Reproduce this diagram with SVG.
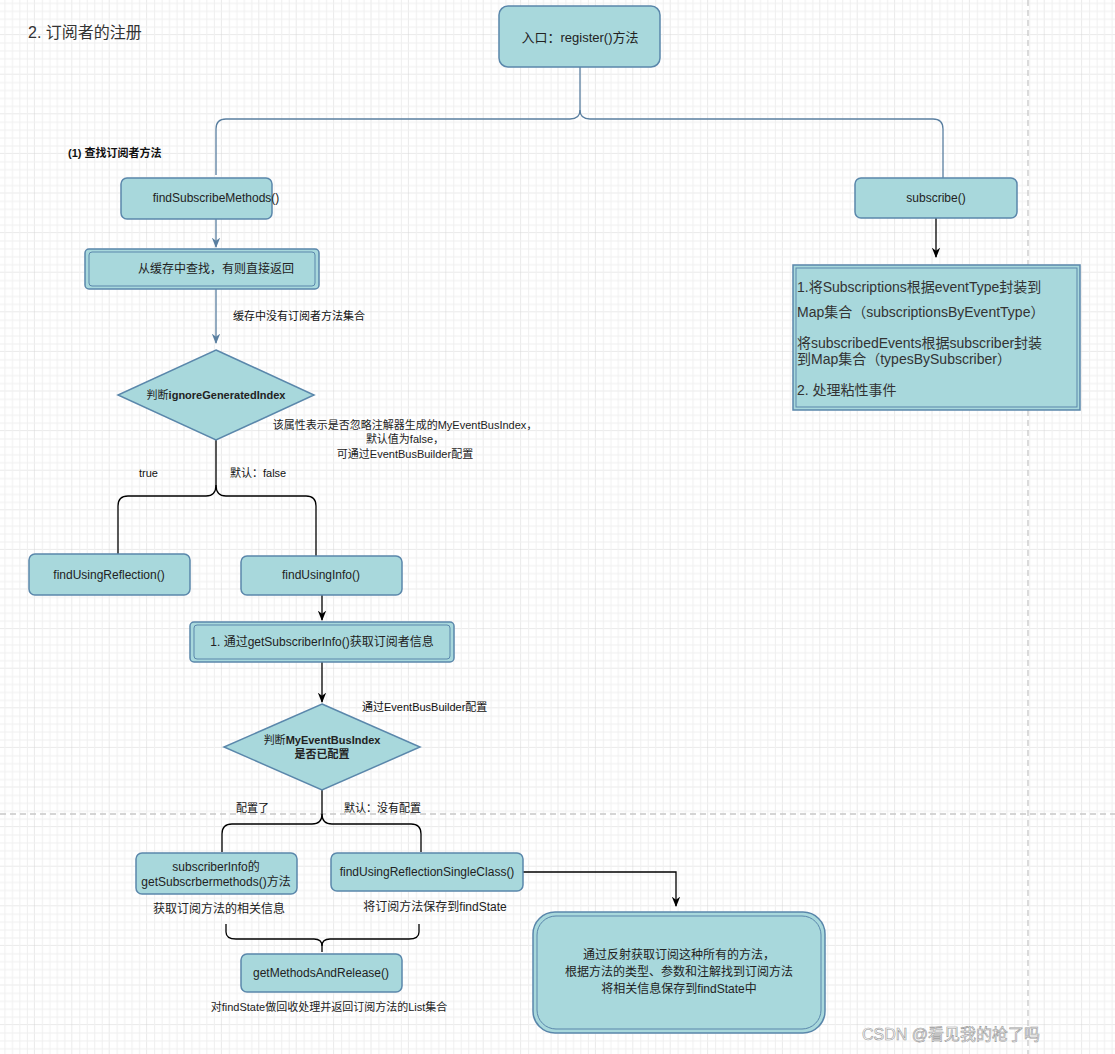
<svg xmlns="http://www.w3.org/2000/svg" width="1115" height="1054" viewBox="0 0 1115 1054">
<defs>
<pattern id="g" width="37.4" height="39.6" patternUnits="userSpaceOnUse" x="-2.5" y="-4.5">
<path d="M37.4 0V39.6M0 39.6H37.4" fill="none" stroke="#d6d6d6" stroke-width="1"/>
<path d="M7.5 0V39.6M15 0V39.6M22.4 0V39.6M29.9 0V39.6M0 7.9H37.4M0 15.8H37.4M0 23.8H37.4M0 31.7H37.4" fill="none" stroke="#f0f0f0" stroke-width="1"/>
</pattern>
<marker id="ab" viewBox="0 0 10 10" refX="9" refY="5" markerWidth="8" markerHeight="8" orient="auto"><path d="M0 1L10 5L0 9L3 5Z" fill="#5a7fa0"/></marker>
<marker id="ak" viewBox="0 0 10 10" refX="9" refY="5" markerWidth="8" markerHeight="8" orient="auto"><path d="M0 1L10 5L0 9L3 5Z" fill="#000"/></marker>
</defs>
<style>
.n{fill:#a8d8dc;stroke:#5a87ab;stroke-width:1.5}
.d{fill:none;stroke:#5a87ab;stroke-width:1}
.t{font-family:"Liberation Sans","Noto Sans CJK SC",sans-serif;font-size:12px;fill:#222;text-anchor:middle}
.l{font-family:"Liberation Sans","Noto Sans CJK SC",sans-serif;font-size:11px;fill:#111}
.cb{fill:none;stroke:#5a7fa0;stroke-width:1.3}
.ck{fill:none;stroke:#000;stroke-width:1.3}
</style>
<rect width="1115" height="1054" fill="#fff"/>
<rect width="1115" height="1054" fill="url(#g)"/>
<path d="M0 814H1115M1028 0V1054" stroke="#c8c8c8" stroke-width="1.3" stroke-dasharray="6 4" fill="none"/>
<text x="28" y="38" class="l" style="font-size:16px;fill:#333">2. 订阅者的注册</text>
<text x="68" y="157" class="l" style="font-weight:bold">(1)  查找订阅者方法</text>

<g id="connectors">
<path class="cb" d="M580 67V110Q580 119 570 119H226Q216 119 216 129V175"/>
<path class="cb" d="M580 110Q580 119 590 119H933Q943 119 943 129V178"/>
<path class="cb" d="M216 219V247" marker-end="url(#ab)"/>
<path class="cb" d="M216 289V343" marker-end="url(#ab)"/>
<path class="ck" d="M216 440V485Q216 496 206 496H128Q118 496 118 506V554"/>
<path class="ck" d="M216 485Q216 496 226 496H306Q316 496 316 506V556"/>
<path class="ck" d="M322 595V620" marker-end="url(#ak)"/>
<path class="ck" d="M322 662V702" marker-end="url(#ak)"/>
<path class="ck" d="M322 790V814Q322 824 312 824H232Q222 824 222 834V852"/>
<path class="ck" d="M322 814Q322 824 332 824H411Q421 824 421 834V852"/>
<path class="ck" d="M226 924V932Q226 939 236 939H314Q322 939 322 946V952"/>
<path class="ck" d="M419 924V932Q419 939 409 939H330Q322 939 322 946"/>
<path class="ck" d="M523 872H676V906" marker-end="url(#ak)"/>
<path class="ck" d="M936 218V257" marker-end="url(#ak)"/>
</g>

<g id="register"><rect class="n" x="499" y="6" width="161" height="61" rx="9"/><text class="t" x="580" y="42" style="font-size:13px">入口：register()方法</text></g>
<g id="findSubscribeMethods"><rect class="n" x="121" y="178" width="151" height="41" rx="6"/><text class="t" x="216" y="202">findSubscribeMethods()</text></g>
<g id="cache"><rect class="n" x="85" y="249" width="234" height="40" rx="4"/><rect class="d" x="89" y="252" width="226" height="34" rx="3"/><text class="t" x="216" y="273">从缓存中查找，有则直接返回</text></g>
<text class="l" x="233" y="320">缓存中没有订阅者方法集合</text>
<g id="d1"><path class="n" d="M216 350L314 395L216 440L118 395Z"/><text class="t" x="216" y="399" style="font-size:11px">判断<tspan font-weight="bold">ignoreGeneratedIndex</tspan></text></g>
<text class="t" x="405" y="429" style="font-size:11px">该属性表示是否忽略注解器生成的MyEventBusIndex，</text>
<text class="t" x="405" y="443" style="font-size:11px">默认值为false，</text>
<text class="t" x="405" y="458" style="font-size:11px">可通过EventBusBuilder配置</text>
<text class="l" x="139" y="477">true</text>
<text class="l" x="230" y="477">默认：false</text>
<g id="findUsingReflection"><rect class="n" x="29" y="554" width="161" height="41" rx="6"/><text class="t" x="109" y="579">findUsingReflection()</text></g>
<g id="findUsingInfo"><rect class="n" x="241" y="556" width="161" height="39" rx="6"/><text class="t" x="321" y="579">findUsingInfo()</text></g>
<g id="getSubscriberInfo"><rect class="n" x="190" y="622" width="264" height="40" rx="4"/><rect class="d" x="194" y="625" width="256" height="34" rx="3"/><text class="t" x="322" y="646">1. 通过getSubscriberInfo()获取订阅者信息</text></g>
<text class="l" x="362" y="711">通过EventBusBuilder配置</text>
<g id="d2"><path class="n" d="M322 704L420 747L322 790L224 747Z"/><text class="t" x="322" y="744" style="font-size:11px">判断<tspan font-weight="bold">MyEventBusIndex</tspan></text><text class="t" x="322" y="758" style="font-size:11px;font-weight:bold">是否已配置</text></g>
<text class="l" x="236" y="812">配置了</text>
<text class="l" x="344" y="812">默认：没有配置</text>
<g id="subscriberInfo"><rect class="n" x="136" y="853" width="161" height="41" rx="6"/><text class="t" x="216" y="871">subscriberInfo的</text><text class="t" x="216" y="886">getSubscrbermethods()方法</text></g>
<g id="findUsingReflectionSingleClass"><rect class="n" x="331" y="853" width="192" height="38" rx="6"/><text class="t" x="427" y="876">findUsingReflectionSingleClass()</text></g>
<text class="t" x="219" y="913">获取订阅方法的相关信息</text>
<text class="t" x="435" y="911">将订阅方法保存到findState</text>
<g id="getMethodsAndRelease"><rect class="n" x="241" y="954" width="161" height="38" rx="6"/><text class="t" x="321" y="977">getMethodsAndRelease()</text></g>
<text class="t" x="329" y="1011" style="font-size:11px">对findState做回收处理并返回订阅方法的List集合</text>
<g id="reflect"><rect class="n" x="533" y="912" width="292" height="121" rx="22"/><rect class="d" x="537" y="916" width="284" height="113" rx="19"/><text class="t" x="679" y="959">通过反射获取订阅这种所有的方法，</text><text class="t" x="679" y="976">根据方法的类型、参数和注解找到订阅方法</text><text class="t" x="679" y="993">将相关信息保存到findState中</text></g>
<g id="subscribe"><rect class="n" x="855" y="178" width="162" height="40" rx="6"/><text class="t" x="936" y="202">subscribe()</text></g>
<g id="subscribeDetail"><rect class="n" x="793" y="265" width="287" height="145"/><rect class="d" x="796" y="268" width="281" height="139"/>
<g class="l" style="font-size:14px;fill:#333"><text x="797" y="292">1.将Subscriptions根据eventType封装到</text><text x="797" y="317">Map集合（subscriptionsByEventType）</text><text x="797" y="348">   将subscribedEvents根据subscriber封装</text><text x="797" y="364">到Map集合（typesBySubscriber）</text><text x="797" y="395">2. 处理粘性事件</text></g></g>
<text x="862" y="1040" class="l" style="font-size:16px;fill:#fff;stroke:#999;stroke-width:0.6">CSDN @看见我的枪了吗</text>
</svg>
